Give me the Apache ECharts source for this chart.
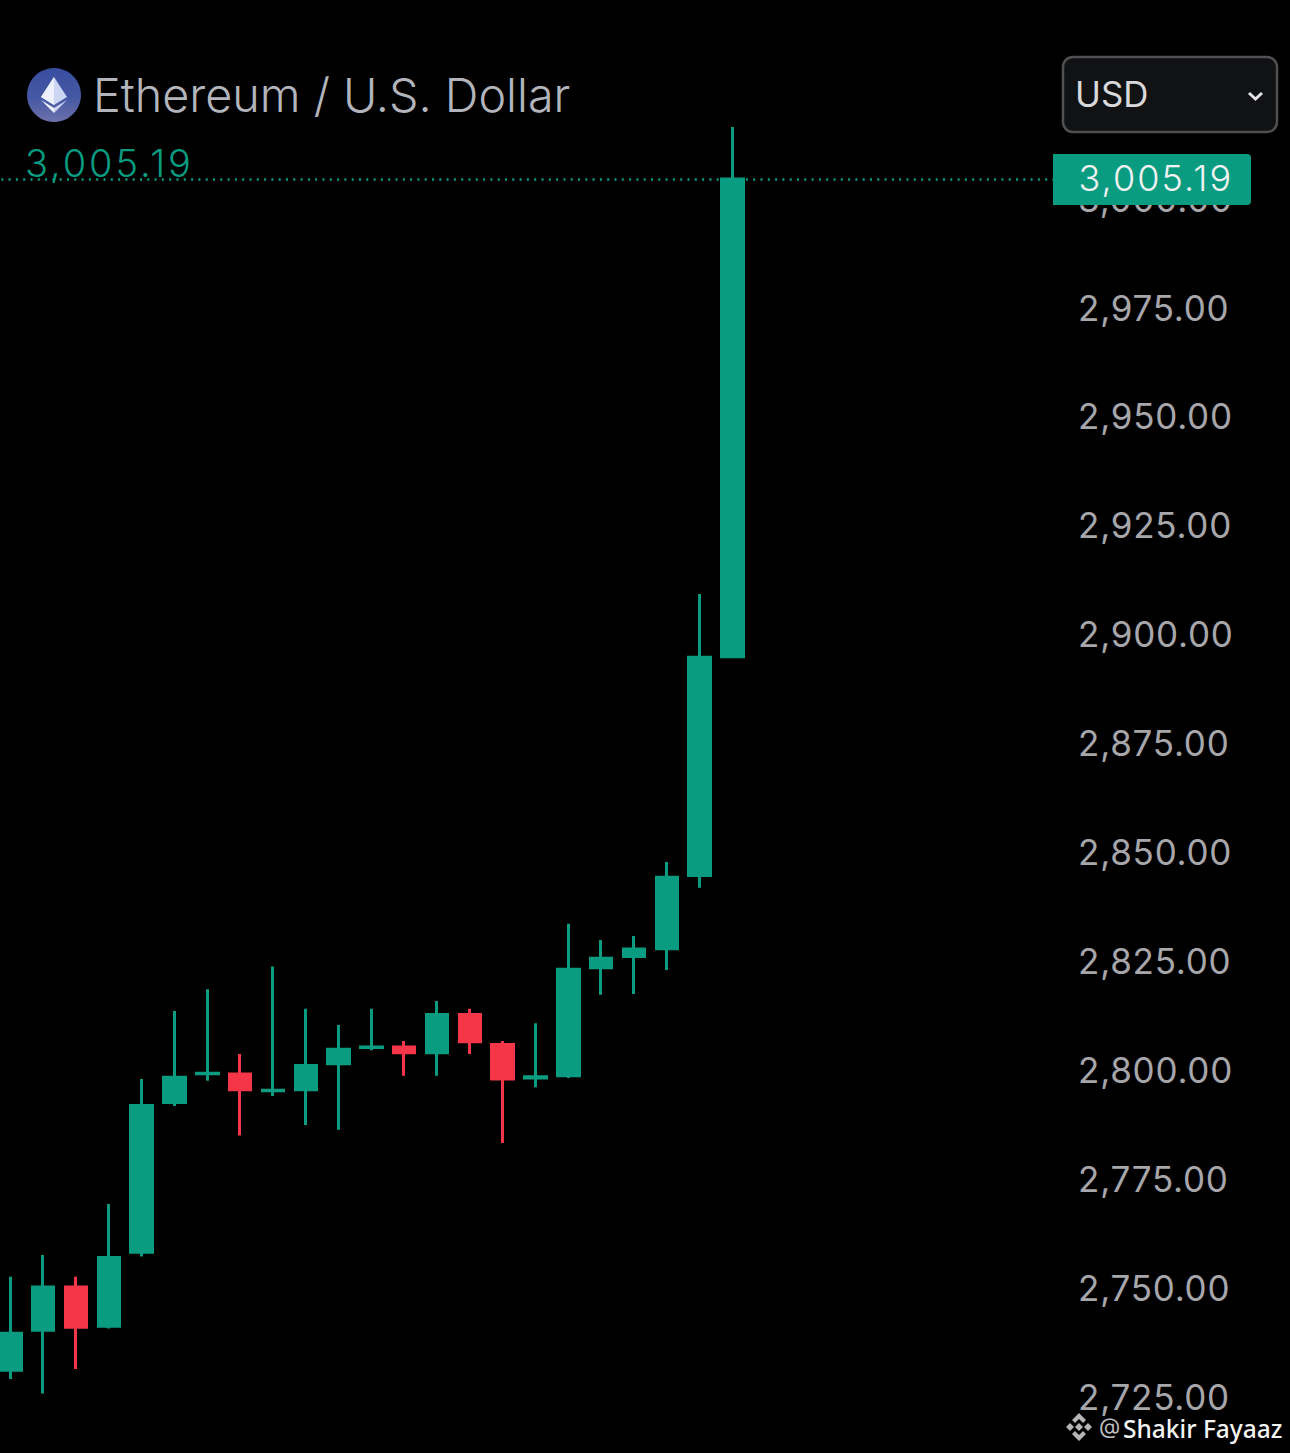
<!DOCTYPE html>
<html>
<head>
<meta charset="utf-8">
<style>html,body{margin:0;padding:0;background:#000}#c{width:1290px;height:1453px}
#c svg text[style*="35px"]{letter-spacing:.75px}
#c svg text[style*="36px"]{letter-spacing:2.1px}
#c svg text[style*="38px"]{letter-spacing:2.9px}
</style>
<script src="https://cdn.jsdelivr.net/npm/echarts@6/dist/echarts.min.js"></script>
</head>
<body>
<div id="c"></div>
<script>
const opens  = [2731.7,2740.9,2750.8,2741.8,2758.8,2793.2,2799.8,2799.7,2795.9,2796.1,2802.1,2805.8,2805.9,2804.6,2813.4,2806.5,2798.8,2799.3,2824.1,2826.7,2828.5,2845.3,2895.5];
const closes = [2740.2,2750.8,2741.6,2757.6,2792.5,2799.0,2799.9,2796.1,2796.0,2801.7,2805.4,2805.9,2804.6,2813.4,2807.1,2798.6,2799.1,2823.8,2826.3,2828.4,2844.9,2895.4,3005.19];
const lows   = [2729.7,2726.4,2732.0,2741.3,2757.8,2792.4,2798.2,2785.6,2794.7,2788.0,2786.9,2805.2,2799.3,2799.3,2804.3,2783.9,2796.7,2798.8,2817.9,2818.1,2823.6,2842.5,2895.5];
const highs  = [2753.2,2758.2,2753.2,2769.9,2798.6,2814.2,2819.2,2804.3,2824.4,2814.7,2811.0,2814.7,2807.3,2816.5,2814.7,2807.3,2811.4,2834.2,2830.5,2831.4,2848.4,2909.9,3017.1];
const emptySlots = 10;
const axisMin = 2700, axisMax = 3050, axisStep = 25;
const titleText = 'Ethereum / U.S. Dollar';
const currencyText = 'USD';
const creditText = 'Shakir Fayaaz';

const GREEN = '#099c81', RED = '#f43648', GREY = '#a6a6ab';
const FONT = 'Inter, "Noto Sans", sans-serif';
const fmt = v => v.toLocaleString('en-US',{minimumFractionDigits:2,maximumFractionDigits:2});
const lastPrice = closes[closes.length-1];

const ohlc = opens.map((o,i)=>[o,closes[i],lows[i],highs[i]]);
const cats = ohlc.map((_,i)=>String(i));
for(let i=0;i<emptySlots;i++){cats.push('f'+i);}

const chart = echarts.init(document.getElementById('c'),null,{renderer:'svg'});
chart.setOption({
  animation:false,
  backgroundColor:'#000',
  grid:{left:-6,top:-16.2,width:1083.06,height:1524.6,containLabel:false,outerBoundsMode:'none'},
  xAxis:{type:'category',data:cats,boundaryGap:true,show:false},
  yAxis:{type:'value',position:'right',min:axisMin,max:axisMax,interval:axisStep,scale:true,
    axisLine:{show:false},axisTick:{show:false},splitLine:{show:false},
    axisLabel:{margin:1,color:GREY,fontFamily:FONT,fontSize:35,fontWeight:400,verticalAlign:'bottom',lineHeight:6,
      showMinLabel:false,showMaxLabel:false,formatter:v=>fmt(v)}},
  series:[{type:'candlestick',data:ohlc,barWidth:22,clip:false,
    itemStyle:{color:GREEN,color0:RED,borderColor:GREEN,borderColor0:RED,borderWidth:3},
    markLine:{silent:true,symbol:'none',animation:false,label:{show:false},
      lineStyle:{color:GREEN,type:[2,5.3],width:2.5,opacity:1},
      data:[{yAxis:lastPrice}]}}]
});

const py = chart.convertToPixel({yAxisIndex:0},lastPrice);
chart.setOption({graphic:[
  {type:'rect',z:50,shape:{x:1053,y:py-25,width:198,height:51,r:[0,4,4,0]},style:{fill:GREEN}},
  {type:'text',z:51,x:1078.5,y:py-1,style:{text:fmt(lastPrice),fill:'#f2f2f2',font:'300 36px '+FONT,textVerticalAlign:'middle',textAlign:'left'}},
  {type:'circle',z:50,shape:{cx:54,cy:95,r:27},style:{fill:new echarts.graphic.LinearGradient(0,0,0,1,[{offset:0,color:'#394ea0'},{offset:.55,color:'#4558a4'},{offset:1,color:'#6d72ab'}])}},
  {type:'polygon',z:51,shape:{points:[[54,77],[67,97],[54,105],[41,97]]},style:{fill:'#cdd5f4'}},
  {type:'polygon',z:52,shape:{points:[[54,77],[54,105],[41,97]]},style:{fill:'#eef1fd'}},
  {type:'polygon',z:51,shape:{points:[[41,100],[54,108],[54,113]]},style:{fill:'#f3f5fe'}},
  {type:'polygon',z:51,shape:{points:[[67,100],[54,108],[54,113]]},style:{fill:'#cdd5f4'}},
  {type:'text',z:51,x:93,y:94.5,style:{text:titleText,fill:'#b3b5bd',font:'300 46.7px '+FONT,textVerticalAlign:'middle'}},
  {type:'text',z:51,x:25,y:162.5,style:{text:fmt(lastPrice),fill:GREEN,font:'300 38px '+FONT,textVerticalAlign:'middle'}},
  {type:'rect',z:50,shape:{x:1063,y:57,width:214,height:75,r:10},style:{fill:'#111214',stroke:'#505052',lineWidth:2.5}},
  {type:'text',z:51,x:1075,y:94,style:{text:currencyText,fill:'#d9d9db',font:'400 34.8px '+FONT,textVerticalAlign:'middle'}},
  {type:'polyline',z:51,shape:{points:[[1249,93],[1255.5,99],[1262,93]]},style:{fill:'none',stroke:'#e4e4e6',lineWidth:3}},
  {type:'polygon',z:60,shape:{points:[[1079,1413],[1086,1420],[1083,1423],[1079,1419],[1075,1423],[1072,1420]]},style:{fill:'#b5b5b5'}},
  {type:'polygon',z:60,shape:{points:[[1079,1441],[1086,1434],[1083,1431],[1079,1435],[1075,1431],[1072,1434]]},style:{fill:'#b5b5b5'}},
  {type:'polygon',z:60,shape:{points:[[1079,1423],[1083,1427],[1079,1431],[1075,1427]]},style:{fill:'#b5b5b5'}},
  {type:'polygon',z:60,shape:{points:[[1070,1423],[1074,1427],[1070,1431],[1066,1427]]},style:{fill:'#b5b5b5'}},
  {type:'polygon',z:60,shape:{points:[[1088,1423],[1092,1427],[1088,1431],[1084,1427]]},style:{fill:'#b5b5b5'}},
  {type:'text',z:60,x:1099,y:1426,style:{text:'@',fill:'#bdbdbd',font:'400 22px '+FONT,textVerticalAlign:'middle'}},
  {type:'text',z:60,x:1123,y:1428,style:{text:creditText,fill:'#f4f4f4',font:'500 24.5px "Noto Sans", sans-serif',textVerticalAlign:'middle'}}
]});
</script>
</body>
</html>
